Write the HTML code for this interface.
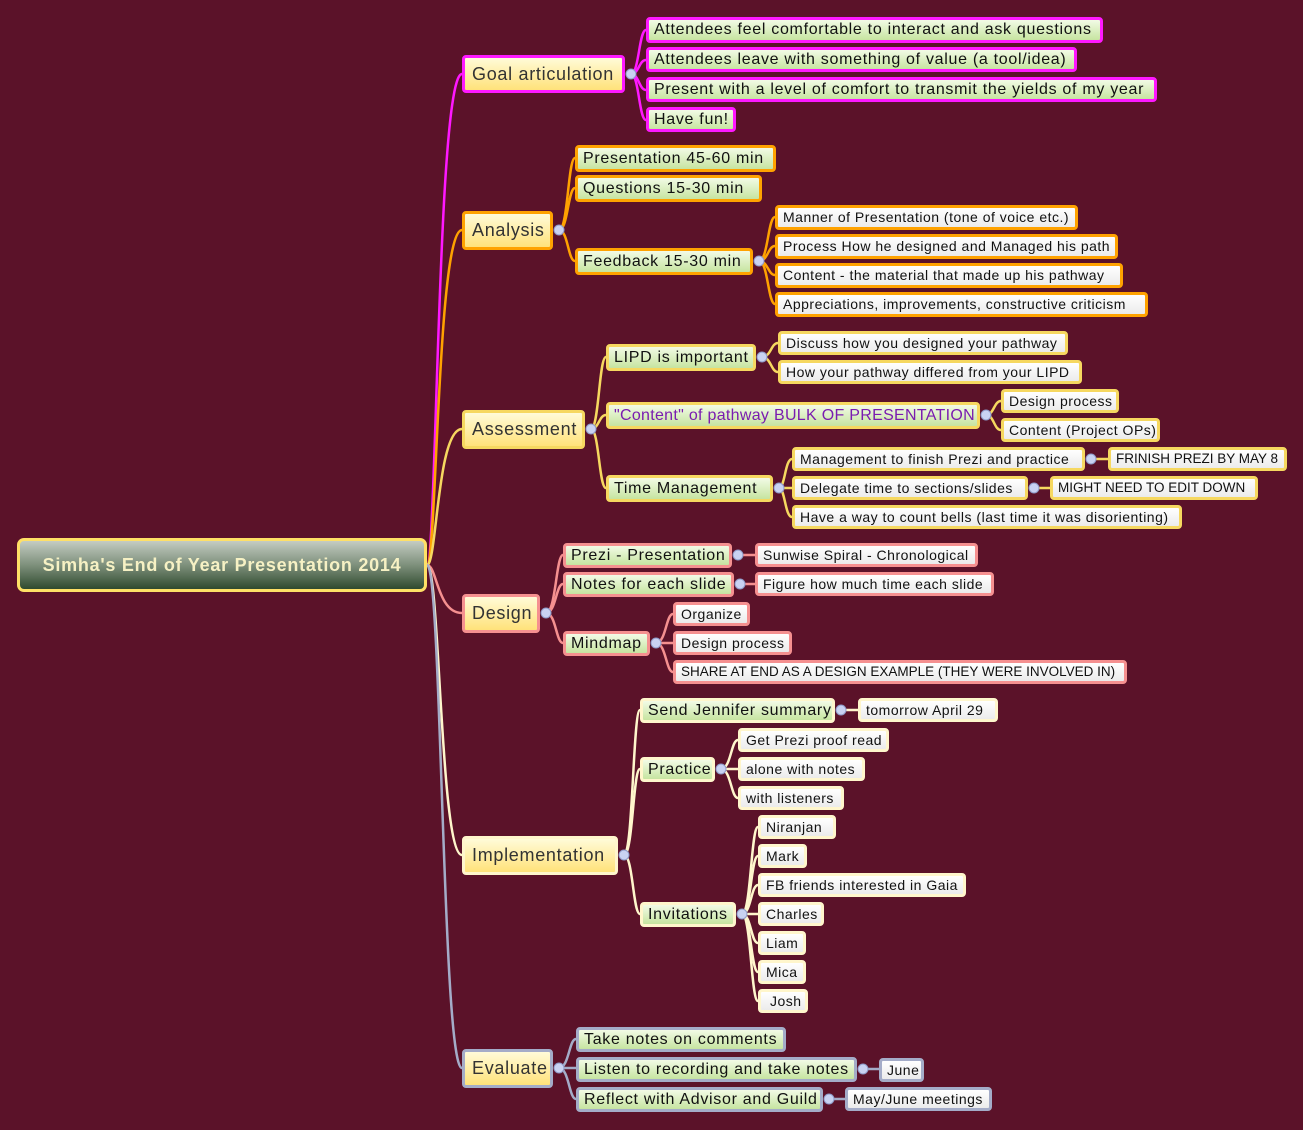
<!DOCTYPE html>
<html><head><meta charset="utf-8"><style>
html,body{margin:0;padding:0}
body{width:1303px;height:1130px;background:#5b1229;position:relative;overflow:hidden;font-family:"Liberation Sans","DejaVu Sans",sans-serif}
.n{position:absolute;box-sizing:border-box;border-radius:4px;white-space:nowrap;color:#111;padding-left:5px;overflow:hidden}
.l1{font-size:18px;letter-spacing:0.7px;background:linear-gradient(#fffbd8,#ffe27a);padding-left:7px;border-width:3px;border-style:solid;color:#333}
.l2{font-size:16px;letter-spacing:0.7px;background:linear-gradient(#f2fbe6,#c6e4a0);border-width:3px;border-style:solid}
.l3{font-size:14px;letter-spacing:0.5px;background:linear-gradient(#ffffff,#ebebeb);border-width:3px;border-style:solid}
.cap{letter-spacing:0}
.m{border-color:#ff18ff}.o{border-color:#ffa200}.y{border-color:#f6d860}.s{border-color:#f59090}.c{border-color:#fff6cc}.b{border-color:#a4acc8}
svg{position:absolute;left:0;top:0}
</style></head><body>
<svg width="1303" height="1130" fill="none" stroke-width="2.5">
<g stroke="#ff18ff"><path d="M427 565 C437 565 437 74 462 74"/><path d="M631 74 C639 74 639 30 646 30"/><path d="M631 74 C639 74 639 60 646 60"/><path d="M631 74 C639 74 639 90 646 90"/><path d="M631 74 C639 74 639 120 646 120"/></g>
<g stroke="#ffa200"><path d="M427 565 C437 565 437 230 462 230"/><path d="M559 230 C568 230 568 158 575 158"/><path d="M559 230 C568 230 568 188 575 188"/><path d="M559 230 C568 230 568 261 575 261"/><path d="M759 261 C768 261 768 217 775 217"/><path d="M759 261 C768 261 768 246 775 246"/><path d="M759 261 C768 261 768 275 775 275"/><path d="M759 261 C768 261 768 304 775 304"/></g>
<g stroke="#f6d860"><path d="M427 565 C437 565 437 429 462 429"/><path d="M591 429 C599 429 599 357 606 357"/><path d="M591 429 C599 429 599 415 606 415"/><path d="M591 429 C599 429 599 488 606 488"/><path d="M762 357 C771 357 771 343 778 343"/><path d="M762 357 C771 357 771 372 778 372"/><path d="M986 415 C994 415 994 401 1001 401"/><path d="M986 415 C994 415 994 430 1001 430"/><path d="M779 488 C785 488 785 459 792 459"/><path d="M779 488 L792 488"/><path d="M779 488 C785 488 785 517 792 517"/><path d="M1091 459 L1108 459"/><path d="M1034 488 L1050 488"/></g>
<g stroke="#f59090"><path d="M427 565 C437 565 437 613 462 613"/><path d="M546 613 C556 613 556 555 563 555"/><path d="M546 613 C556 613 556 584 563 584"/><path d="M546 613 C556 613 556 643 563 643"/><path d="M738 555 L755 555"/><path d="M740 584 L755 584"/><path d="M656 643 C666 643 666 614 673 614"/><path d="M656 643 L673 643"/><path d="M656 643 C666 643 666 672 673 672"/></g>
<g stroke="#fff6cc"><path d="M427 565 C440 565 440 855 462 855"/><path d="M624 855 C633 855 633 710 640 710"/><path d="M624 855 C633 855 633 769 640 769"/><path d="M624 855 C633 855 633 914 640 914"/><path d="M841 710 L858 710"/><path d="M721 769 C731 769 731 740 738 740"/><path d="M721 769 L738 769"/><path d="M721 769 C731 769 731 798 738 798"/><path d="M742 914 C751 914 751 827 758 827"/><path d="M742 914 C751 914 751 856 758 856"/><path d="M742 914 C751 914 751 885 758 885"/><path d="M742 914 L758 914"/><path d="M742 914 C751 914 751 943 758 943"/><path d="M742 914 C751 914 751 972 758 972"/><path d="M742 914 C751 914 751 1001 758 1001"/></g>
<g stroke="#a4acc8"><path d="M427 565 C442 565 442 1068 462 1068"/><path d="M559 1068 C569 1068 569 1039 576 1039"/><path d="M559 1068 L576 1068"/><path d="M559 1068 C569 1068 569 1099 576 1099"/><path d="M863 1069 L879 1069"/><path d="M829 1099 L845 1099"/></g>
<g fill="#c9d2f2" stroke="#8e9ac8" stroke-width="1"><circle cx="631" cy="74" r="5"/><circle cx="559" cy="230" r="5"/><circle cx="759" cy="261" r="5"/><circle cx="591" cy="429" r="5"/><circle cx="762" cy="357" r="5"/><circle cx="986" cy="415" r="5"/><circle cx="779" cy="488" r="5"/><circle cx="1091" cy="459" r="5"/><circle cx="1034" cy="488" r="5"/><circle cx="546" cy="613" r="5"/><circle cx="738" cy="555" r="5"/><circle cx="740" cy="584" r="5"/><circle cx="656" cy="643" r="5"/><circle cx="624" cy="855" r="5"/><circle cx="841" cy="710" r="5"/><circle cx="721" cy="769" r="5"/><circle cx="742" cy="914" r="5"/><circle cx="559" cy="1068" r="5"/><circle cx="863" cy="1069" r="5"/><circle cx="829" cy="1099" r="5"/></g>
</svg>

<div class="n" style="left:17px;top:538px;width:410px;height:54px;border:3px solid #ffe066;border-radius:7px;background:linear-gradient(#c4ccc2,#7e907c 50%,#2f4a2e);color:#f6f1c4;font-weight:bold;font-size:18px;letter-spacing:0.75px;text-align:center;line-height:48px;padding:0">Simha's End of Year Presentation 2014</div>

<div class="n l1 m" style="left:462px;top:55px;width:163px;height:38px;line-height:32px">Goal articulation</div>
<div class="n l2 m" style="left:646px;top:17px;width:457px;height:26px;line-height:20px">Attendees feel comfortable to interact and ask questions</div>
<div class="n l2 m" style="left:646px;top:47px;width:431px;height:25px;line-height:19px">Attendees leave with something of value (a tool/idea)</div>
<div class="n l2 m" style="left:646px;top:77px;width:511px;height:25px;line-height:19px">Present with a level of comfort to transmit the yields of my year</div>
<div class="n l2 m" style="left:646px;top:107px;width:90px;height:25px;line-height:19px">Have fun!</div>

<div class="n l1 o" style="left:462px;top:211px;width:91px;height:39px;line-height:33px">Analysis</div>
<div class="n l2 o" style="left:575px;top:145px;width:201px;height:27px;line-height:21px">Presentation 45-60 min</div>
<div class="n l2 o" style="left:575px;top:175px;width:187px;height:27px;line-height:21px">Questions 15-30 min</div>
<div class="n l2 o" style="left:575px;top:248px;width:178px;height:27px;line-height:21px">Feedback 15-30 min</div>
<div class="n l3 o" style="left:775px;top:205px;width:303px;height:25px;line-height:19px">Manner of Presentation (tone of voice etc.)</div>
<div class="n l3 o" style="left:775px;top:234px;width:343px;height:25px;line-height:19px">Process How he designed and Managed his path</div>
<div class="n l3 o" style="left:775px;top:263px;width:348px;height:25px;line-height:19px">Content - the material that made up his pathway</div>
<div class="n l3 o" style="left:775px;top:292px;width:373px;height:25px;line-height:19px">Appreciations, improvements, constructive criticism</div>

<div class="n l1 y" style="left:462px;top:410px;width:123px;height:39px;line-height:33px">Assessment</div>
<div class="n l2 y" style="left:606px;top:344px;width:150px;height:27px;line-height:21px">LIPD is important</div>
<div class="n l2 y" style="left:606px;top:402px;width:374px;height:27px;line-height:21px;color:#7a1cb0;letter-spacing:0.3px">"Content" of pathway BULK OF PRESENTATION</div>
<div class="n l2 y" style="left:606px;top:475px;width:167px;height:27px;line-height:21px">Time Management</div>
<div class="n l3 y" style="left:778px;top:331px;width:290px;height:24px;line-height:18px">Discuss how you designed your pathway</div>
<div class="n l3 y" style="left:778px;top:360px;width:304px;height:24px;line-height:18px">How your pathway differed from your LIPD</div>
<div class="n l3 y" style="left:1001px;top:389px;width:118px;height:24px;line-height:18px">Design process</div>
<div class="n l3 y" style="left:1001px;top:418px;width:159px;height:24px;line-height:18px">Content (Project OPs)</div>
<div class="n l3 y" style="left:792px;top:447px;width:293px;height:24px;line-height:18px">Management to finish Prezi and practice</div>
<div class="n l3 y" style="left:792px;top:476px;width:236px;height:24px;line-height:18px">Delegate time to sections/slides</div>
<div class="n l3 y" style="left:792px;top:505px;width:390px;height:24px;line-height:18px">Have a way to count bells (last time it was disorienting)</div>
<div class="n l3 y cap" style="left:1108px;top:447px;width:179px;height:24px;line-height:18px;font-size:13.5px">FRINISH PREZI BY MAY 8</div>
<div class="n l3 y cap" style="left:1050px;top:476px;width:208px;height:24px;line-height:18px;font-size:13.5px">MIGHT NEED TO EDIT DOWN</div>

<div class="n l1 s" style="left:462px;top:594px;width:78px;height:39px;line-height:33px">Design</div>
<div class="n l2 s" style="left:563px;top:543px;width:169px;height:25px;line-height:19px">Prezi - Presentation</div>
<div class="n l2 s" style="left:563px;top:572px;width:171px;height:25px;line-height:19px">Notes for each slide</div>
<div class="n l2 s" style="left:563px;top:631px;width:87px;height:25px;line-height:19px">Mindmap</div>
<div class="n l3 s" style="left:755px;top:543px;width:223px;height:24px;line-height:18px">Sunwise Spiral - Chronological</div>
<div class="n l3 s" style="left:755px;top:572px;width:239px;height:24px;line-height:18px">Figure how much time each slide</div>
<div class="n l3 s" style="left:673px;top:602px;width:77px;height:24px;line-height:18px">Organize</div>
<div class="n l3 s" style="left:673px;top:631px;width:119px;height:24px;line-height:18px">Design process</div>
<div class="n l3 s cap" style="left:673px;top:660px;width:454px;height:24px;line-height:18px;font-size:13.5px">SHARE AT END AS A DESIGN EXAMPLE (THEY WERE INVOLVED IN)</div>

<div class="n l1 c" style="left:462px;top:836px;width:156px;height:39px;line-height:33px">Implementation</div>
<div class="n l2 c" style="left:640px;top:698px;width:195px;height:25px;line-height:19px">Send Jennifer summary</div>
<div class="n l2 c" style="left:640px;top:757px;width:75px;height:25px;line-height:19px">Practice</div>
<div class="n l2 c" style="left:640px;top:902px;width:96px;height:25px;line-height:19px">Invitations</div>
<div class="n l3 c" style="left:858px;top:698px;width:140px;height:24px;line-height:18px">tomorrow April 29</div>
<div class="n l3 c" style="left:738px;top:728px;width:151px;height:24px;line-height:18px">Get Prezi proof read</div>
<div class="n l3 c" style="left:738px;top:757px;width:127px;height:24px;line-height:18px">alone with notes</div>
<div class="n l3 c" style="left:738px;top:786px;width:106px;height:24px;line-height:18px">with listeners</div>
<div class="n l3 c" style="left:758px;top:815px;width:78px;height:24px;line-height:18px">Niranjan</div>
<div class="n l3 c" style="left:758px;top:844px;width:49px;height:24px;line-height:18px">Mark</div>
<div class="n l3 c" style="left:758px;top:873px;width:208px;height:24px;line-height:18px">FB friends interested in Gaia</div>
<div class="n l3 c" style="left:758px;top:902px;width:66px;height:24px;line-height:18px">Charles</div>
<div class="n l3 c" style="left:758px;top:931px;width:48px;height:24px;line-height:18px">Liam</div>
<div class="n l3 c" style="left:758px;top:960px;width:48px;height:24px;line-height:18px">Mica</div>
<div class="n l3 c" style="left:758px;top:989px;width:50px;height:24px;line-height:18px;padding-left:9px">Josh</div>

<div class="n l1 b" style="left:462px;top:1049px;width:91px;height:39px;line-height:33px">Evaluate</div>
<div class="n l2 b" style="left:576px;top:1027px;width:210px;height:25px;line-height:19px">Take notes on comments</div>
<div class="n l2 b" style="left:576px;top:1057px;width:281px;height:25px;line-height:19px">Listen to recording and take notes</div>
<div class="n l2 b" style="left:576px;top:1087px;width:247px;height:25px;line-height:19px">Reflect with Advisor and Guild</div>
<div class="n l3 b" style="left:879px;top:1058px;width:45px;height:24px;line-height:18px">June</div>
<div class="n l3 b" style="left:845px;top:1087px;width:147px;height:24px;line-height:18px">May/June meetings</div>
</body></html>
